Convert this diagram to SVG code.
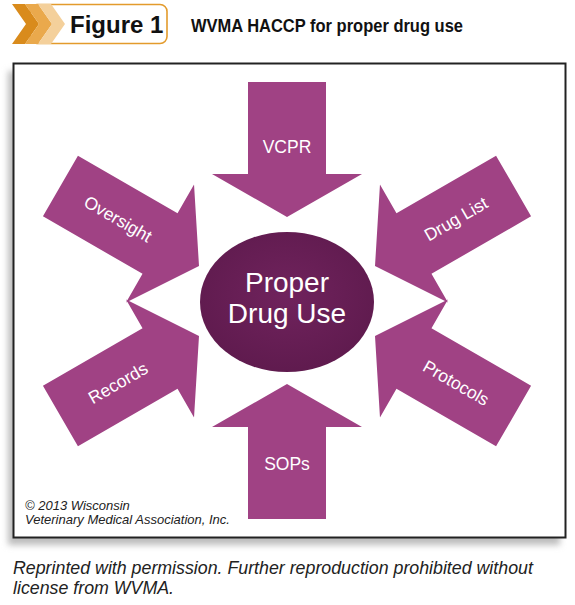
<svg xmlns="http://www.w3.org/2000/svg" width="575" height="605" viewBox="0 0 575 605">
<style>
.arr{fill:#a04284}
.lbl{font-family:"Liberation Sans",Arial,sans-serif;font-size:17.5px;fill:#fff;text-anchor:middle}
.ctr{font-family:"Liberation Sans",Arial,sans-serif;font-size:28px;fill:#fff;text-anchor:middle}
.it{font-family:"Liberation Sans",Arial,sans-serif;font-style:italic;fill:#222}
</style>
<defs>
<filter id="blur" x="-5%" y="-5%" width="110%" height="110%"><feGaussianBlur stdDeviation="3"/></filter>
<radialGradient id="eg" cx="50%" cy="45%" r="60%">
<stop offset="0" stop-color="#70235d"/>
<stop offset="1" stop-color="#5e1a4d"/>
</radialGradient>
<polygon id="straight" points="0,0 -43,-75 -43,-39 -135,-39 -135,39 -43,39 -43,75"/>
<polygon id="diag" points="0,0 -45,-68 -45,-35 -160,-35 -160,35 -45,35 -45,68"/>
</defs>
<rect width="575" height="605" fill="#fff"/>
<g id="header">
<rect x="30" y="4.5" width="137" height="39" rx="7" fill="#fff" stroke="#e39b2c" stroke-width="1.6"/>
<polygon points="12,4 25,4 39,24 25,44 12,44 26,24" fill="#d98b1c"/>
<polygon points="25,4 38,4 52,24 38,44 25,44 39,24" fill="#eaa94c"/>
<polygon points="38,4 51,4 65,24 51,44 38,44 52,24" fill="#f4d09b"/>
<text x="70" y="33" font-family="Liberation Sans,Arial,sans-serif" font-weight="bold" font-size="24" fill="#111">Figure 1</text>
<text x="191" y="32" font-family="Liberation Sans Narrow,Arial Narrow,Liberation Sans,sans-serif" font-weight="bold" font-size="18" fill="#111" textLength="272" lengthAdjust="spacingAndGlyphs">WVMA HACCP for proper drug use</text>
</g>
<g id="frame">
<rect x="8" y="71" width="552" height="474" fill="#bdbdbd" filter="url(#blur)"/>
<rect x="13.5" y="63.5" width="552" height="474" fill="#fff" stroke="#222" stroke-width="2"/>
</g>
<g id="center">
<ellipse cx="287" cy="302" rx="87" ry="70" fill="url(#eg)"/>
<text class="ctr" x="287" y="292">Proper</text>
<text class="ctr" x="287" y="323">Drug Use</text>
</g>
<g id="connectors">
<g id="vcpr">
<use href="#straight" class="arr" transform="translate(287,217) rotate(90)"/>
<text class="lbl" x="287" y="153">VCPR</text>
</g>
<g id="sops">
<use href="#straight" class="arr" transform="translate(287,384) rotate(-90)"/>
<text class="lbl" x="287" y="470">SOPs</text>
</g>
<g id="oversight">
<use href="#diag" class="arr" transform="translate(199,266) rotate(30)"/>
<text class="lbl" transform="translate(118,219) rotate(30)" y="6">Oversight</text>
</g>
<g id="druglist">
<use href="#diag" class="arr" transform="translate(375,266) rotate(150)"/>
<text class="lbl" transform="translate(456,219) rotate(-30)" y="6">Drug List</text>
</g>
<g id="records">
<use href="#diag" class="arr" transform="translate(199,336) rotate(-30)"/>
<text class="lbl" transform="translate(118,383) rotate(-30)" y="6">Records</text>
</g>
<g id="protocols">
<use href="#diag" class="arr" transform="translate(375,336) rotate(-150)"/>
<text class="lbl" transform="translate(456,383) rotate(30)" y="6">Protocols</text>
</g>
</g>
<g id="notes">
<text class="it" x="25" y="510" font-size="13">© 2013 Wisconsin</text>
<text class="it" x="25" y="524" font-size="13">Veterinary Medical Association, Inc.</text>
<text class="it" x="13" y="574" font-size="17.8">Reprinted with permission. Further reproduction prohibited without</text>
<text class="it" x="13" y="594" font-size="17.8">license from WVMA.</text>
</g>
</svg>
